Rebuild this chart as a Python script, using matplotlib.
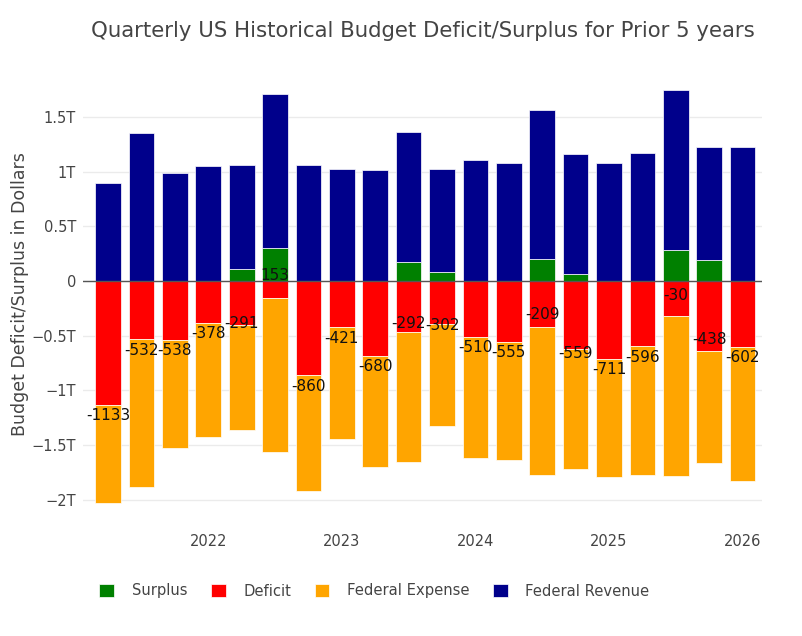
import numpy as np
import matplotlib.pyplot as plt
from matplotlib.ticker import FuncFormatter

plt.rcParams["font.family"] = ["DejaVu Sans"]

# ------------------------------------------------------------------
# Donnees (milliards de dollars)
# ------------------------------------------------------------------
quarters = ["2021-Q2", "2021-Q3", "2021-Q4",
            "2022-Q1", "2022-Q2", "2022-Q3", "2022-Q4",
            "2023-Q1", "2023-Q2", "2023-Q3", "2023-Q4",
            "2024-Q1", "2024-Q2", "2024-Q3", "2024-Q4",
            "2025-Q1", "2025-Q2", "2025-Q3", "2025-Q4",
            "2026-Q1"]

surplus = [0, 0, 0, 0, 113, 305, 0, 0, 0, 171,
           85, 0, 0, 204, 64, 0, 0, 284, 195, 0]

deficit = [-1134, -534, -543, -381, -403, -159, -860, -424, -683, -470,
           -390, -512, -555, -421, -620, -714, -598, -317, -638, -604]

expense = [-900, -1351, -985, -1049, -960, -1402, -1058, -1024, -1022, -1189,
           -937, -1107, -1083, -1354, -1103, -1082, -1177, -1464, -1024, -1223]

revenue = [894, 1351, 985, 1049, 951, 1403, 1058, 1022, 1018, 1189,
           937, 1104, 1077, 1358, 1095, 1080, 1174, 1461, 1028, 1223]

deficit_labels = [-1133, -532, -538, -378, -291, 153, -860, -421, -680, -292,
                  -302, -510, -555, -209, -559, -711, -596, -30, -438, -602]

# ------------------------------------------------------------------
# Figure
# ------------------------------------------------------------------
txt = "#444444"
fig = plt.figure(figsize=(8.02, 6.36), dpi=100)
ax = fig.add_axes([83 / 802, 1 - 521.5 / 636, 679 / 802, 451.5 / 636])

x = np.arange(len(quarters))
w = 0.77
kw = dict(width=w, edgecolor="white", linewidth=0.5, zorder=3)

b_s = ax.bar(x, surplus, color="green", label="Surplus", **kw)
b_d = ax.bar(x, deficit, color="red", label="Deficit", **kw)
b_e = ax.bar(x, expense, bottom=deficit, color="orange", label="Federal Expense", **kw)
b_r = ax.bar(x, revenue, bottom=surplus, color="darkblue", label="Federal Revenue", **kw)

for xi, v in zip(x, deficit_labels):
    ax.annotate(str(v), (xi, v), xytext=(0, -11), textcoords="offset pixels",
                ha="center", va="center", fontsize=11, color="#111111", zorder=5)

ax.axhline(0, color="#555555", lw=1, zorder=4)
ax.set_xlim(-0.75, 19.58)
ax.set_ylim(-2200, 1930)


def fmt_t(v, pos):
    if v == 0:
        return "0"
    s = f"{abs(v) / 1000:g}T"
    return ("\u2212" + s) if v < 0 else s


ax.set_yticks(np.arange(-2000, 1501, 500))
ax.yaxis.set_major_formatter(FuncFormatter(fmt_t))
year_idx = [i for i, q in enumerate(quarters) if q.endswith("Q1")]
ax.set_xticks(year_idx)
ax.set_xticklabels([quarters[i][:4] for i in year_idx])
ax.tick_params(axis="x", length=0, pad=9, labelsize=10.5, labelcolor=txt)
ax.tick_params(axis="y", length=0, pad=5, labelsize=10.5, labelcolor=txt)

ax.grid(axis="y", color="#ebebeb", lw=1, zorder=0)
ax.set_axisbelow(True)
for sp in ax.spines.values():
    sp.set_visible(False)

fig.text(423 / 802, 1 - 31 / 636,
         "Quarterly US Historical Budget Deficit/Surplus for Prior 5 years",
         ha="center", va="center", fontsize=15.3, color=txt)
fig.text(20 / 802, 1 - 294 / 636, "Budget Deficit/Surplus in Dollars",
         rotation=90, ha="center", va="center", fontsize=12.5, color=txt)

fig.legend(handles=[b_s, b_d, b_e, b_r], loc="center", ncol=4,
           bbox_to_anchor=(374.5 / 802, 1 - 591 / 636), frameon=False,
           fontsize=10.6, labelcolor=txt, handlelength=1.0, handleheight=1.0,
           handletextpad=1.2, columnspacing=1.6)

plt.savefig("out.png", dpi=100)
plt.close()
